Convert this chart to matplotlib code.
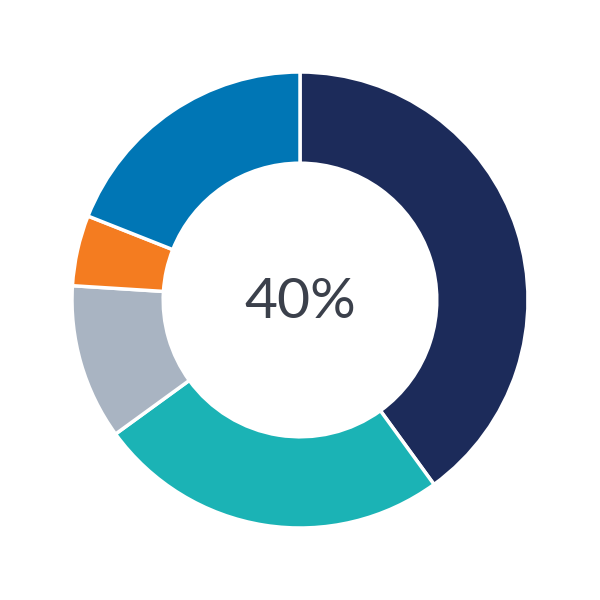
import matplotlib.pyplot as plt

# segment shares, clockwise from 12 o'clock
labels = ['A', 'B', 'C', 'D', 'E']
values = [40, 25, 11, 5, 19]
colors = ['#1c2b5a', '#1bb3b5', '#a9b4c2', '#f47c20', '#0076b5']
center_text = '40%'

fig = plt.figure(figsize=(6, 6), dpi=100)
ax = fig.add_axes([0, 0, 1, 1])

ax.pie(values, colors=colors, startangle=90, counterclock=False,
       radius=1.0,
       wedgeprops=dict(width=0.4, edgecolor='white', linewidth=2.5))

ax.text(0, -0.01, center_text, ha='center', va='center', fontsize=41,
        color='#3b404b', family='Lato', fontweight='normal')

lim = 300 / 228
ax.set_xlim(-lim, lim)
ax.set_ylim(-lim, lim)
ax.set_aspect('equal')
ax.axis('off')

plt.savefig('out.png', dpi=100)
